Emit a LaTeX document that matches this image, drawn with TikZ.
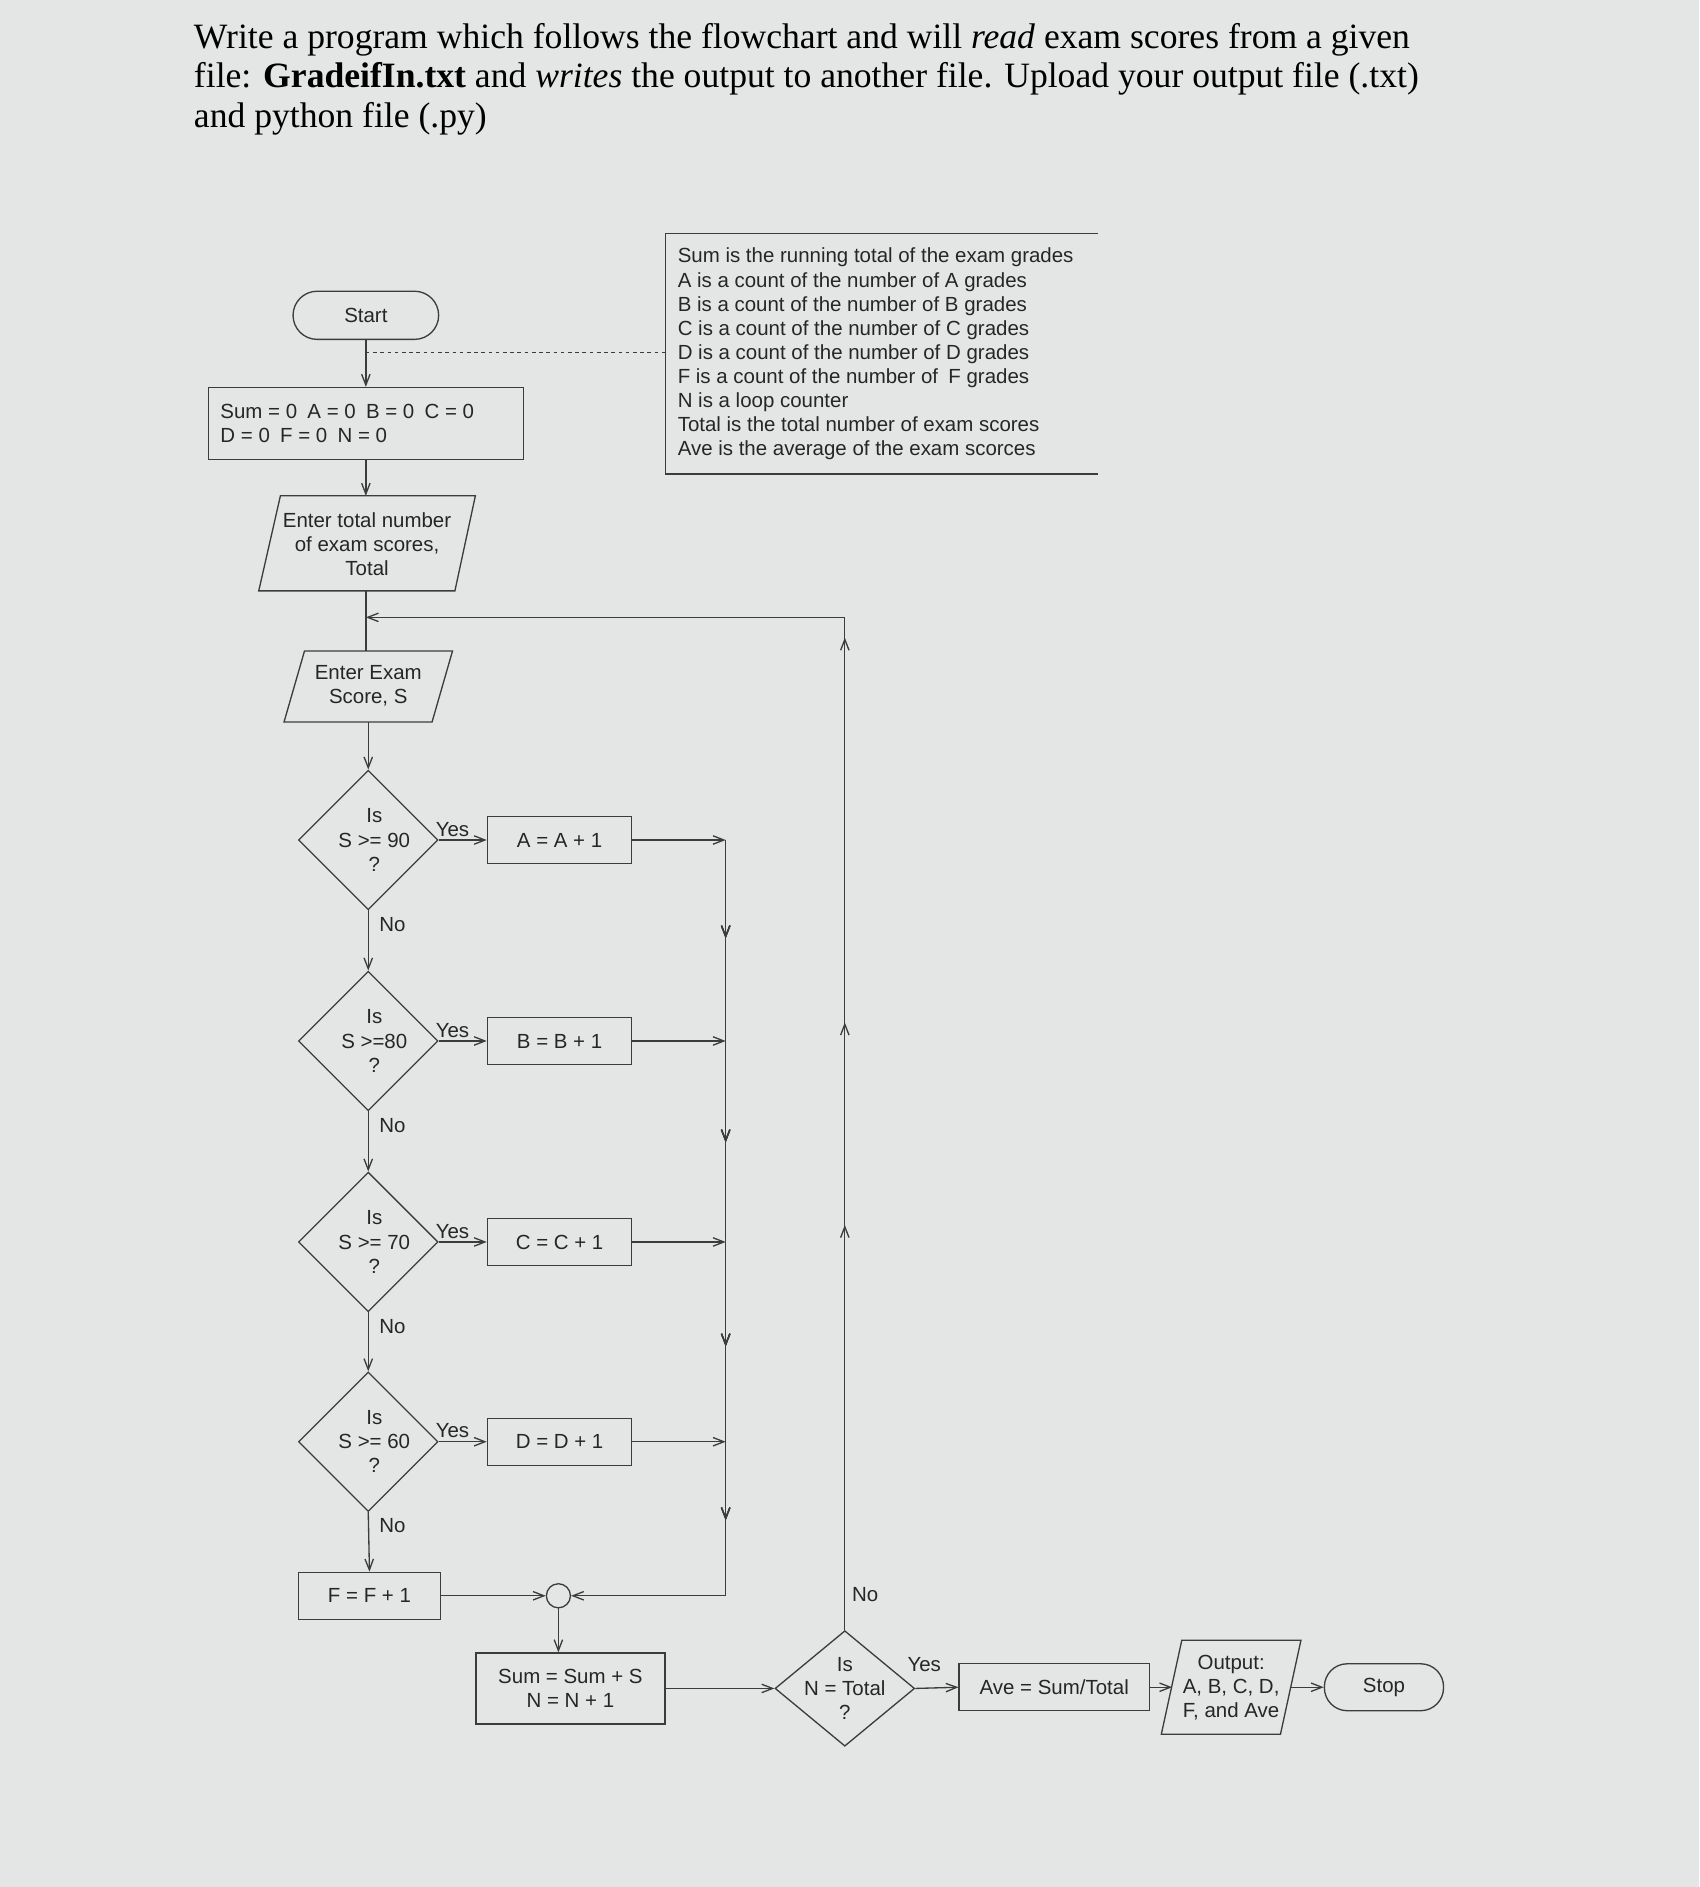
\documentclass[tikz,border=0pt]{standalone}
\usepackage{fontspec}
\setmainfont{Liberation Serif}
\newfontfamily\arial{Liberation Sans}
\usetikzlibrary{shapes.geometric,arrows.meta,decorations.markings}
\definecolor{bg}{RGB}{228,230,230}
\definecolor{ink}{RGB}{60,60,60}
\tikzset{
 tip/.tip={Straight Barb[length=9pt,width=7pt]},
 fc/.style={draw=ink,line width=1.1pt},
 txt/.style={font=\arial\fontsize{17}{20}\selectfont,text=black!85,align=center,inner sep=0},
 box/.style={fc,txt,inner sep=0,minimum height=39pt},
 dia/.style={fc,diamond,minimum width=116pt,minimum height=116pt,inner sep=0},
 ln/.style={draw=ink,line width=1.1pt},
 arr/.style={ln,-tip},
 downm/.style={postaction={decorate},decoration={markings,mark=at position #1 with {\arrow{tip}}}},
}
\begin{document}
\begin{tikzpicture}[x=1pt,y=-1pt]
\fill[bg] (0,0) rectangle (1412,1568);
\useasboundingbox (0,0) rectangle (1412,1568);
\node[anchor=north west,inner sep=0,align=left,font=\fontsize{29.6}{33}\selectfont] (title) at (161,19)
{Write a program which follows the flowchart and will \textit{read} exam scores from a given\\
file: \textbf{GradeifIn.txt} and \textit{writes} the output to another file. Upload your output file (.txt)\\
and python file (.py)};
% start
\node[fc,txt,rounded corners=20pt,minimum width=121pt,minimum height=40pt] (start) at (304,262) {Start};
\node[box,minimum width=262pt,minimum height=60pt] (init) at (304,352) {};
\node[txt,anchor=west,align=left] (initt) at (183,352) {Sum = 0\enspace A = 0\enspace B = 0\enspace C = 0\\D = 0\enspace F = 0\enspace N = 0};
\coordinate (dstart) at (304,293);
\coordinate (dend) at (553,293);
\draw[ln,dashed,line width=0.8pt] (dstart) -- (dend);
\draw[ln] (912,194) -- (553,194) -- (553,394) -- (912,394);
\node[txt,anchor=north west,align=left] (note) at (563,206)
{Sum is the running total of the exam grades\\A is a count of the number of A grades\\B is a count of the number of B grades\\C is a count of the number of C grades\\D is a count of the number of D grades\\F is a count of the number of\enspace F grades\\N is a loop counter\\Total is the total number of exam scores\\Ave is the average of the exam scorces};
\draw[arr] (start) -- (init);
% input total
\draw[fc] (233,412) -- (395,412) -- (378,491) -- (215,491) -- cycle;
\node[txt] (tot) at (305,452) {Enter total number\\of exam scores,\\Total};
\coordinate (totb) at (304,491);
\coordinate (tott) at (304,412);
\draw[arr] (304,382) -- (tott);
\draw[fc] (253,541) -- (376,541) -- (359,600) -- (236,600) -- cycle;
\node[txt] (exam) at (306,570) {Enter Exam\\Score, S};
\coordinate (examt) at (306,541);
\coordinate (examb) at (306,600);
\coordinate (loopj) at (304,513);
\draw[ln] (totb) -- (304,541);
% diamonds
\foreach \n/\y/\t/\L/\lt in {1/698/S >= 90/A/A = A + 1,2/865/S >=80/B/B = B + 1,3/1032/S >= 70/C/C = C + 1,4/1198/S >= 60/D/D = D + 1}{
 \node[dia] (d\n) at (306,\y) {};
 \node[txt] (dt\n) at (311,\y) {Is\\\t\\?};
 \node[box,minimum width=120pt] (b\n) at (465,\y) {\lt};
 \draw[arr] (d\n.east) -- (b\n.west);
 \node[txt] (y\n) at (376,\y-9) {Yes};
 \node[txt] (n\n) at (326,\y+70) {No};
 \draw[arr] (b\n.east) -- (603,\y);
}
\draw[arr] (examb) -- (d1.north);
\draw[arr] (d1.south) -- (d2.north);
\draw[arr] (d2.south) -- (d3.north);
\draw[arr] (d3.south) -- (d4.north);
\node[box,minimum width=118pt] (f) at (307,1326) {F = F + 1};
\draw[arr] (d4.south) -- (f.north);
\node[circle,fc,minimum size=20pt,inner sep=0] (j) at (464,1326) {};
\draw[arr] (f.east) -- (j.west);
\draw[ln,downm=0.13,downm=0.4,downm=0.67,downm=0.9] (603,698) -- (603,1326);
\draw[arr] (603,1326) -- (j.east);
\node[box,minimum width=157pt,minimum height=59pt] (sum) at (474,1403) {Sum = Sum + S\\N = N + 1};
\draw[arr] (j.south) -- (464,1373);
\node[fc,diamond,minimum width=116pt,minimum height=96pt,inner sep=0] (dn) at (702,1403) {};
\node[txt] (dnt) at (702,1403) {Is\\N = Total\\?};
\draw[arr] (sum.east) -- (dn.west);
\coordinate (top) at (702,513);
\draw[ln,postaction={decorate},decoration={markings,mark=at position 0.4 with {\arrow{tip}},mark=at position 0.6 with {\arrow{tip}},mark=at position 0.98 with {\arrow{tip}}}] (dn.north) -- (top);
\draw[arr] (top) -- (loopj);
\node[txt] (no5) at (719,1325) {No};
\node[txt] (yes5) at (768,1383) {Yes};
\node[box,minimum width=158pt] (ave) at (876,1402) {Ave = Sum/Total};
\draw[arr] (dn.east) -- (ave.west);
\draw[fc] (982,1363) -- (1081,1363) -- (1064,1441) -- (965,1441) -- cycle;
\node[txt] (out) at (1023,1402) {Output:\\A, B, C, D,\\F, and Ave};
\draw[arr] (ave.east) -- (974,1402);
\node[fc,txt,rounded corners=19pt,minimum width=99pt,minimum height=39pt] (stop) at (1150,1402) {Stop};
\draw[arr] (1073,1402) -- (stop.west);
\end{tikzpicture}
\end{document}
